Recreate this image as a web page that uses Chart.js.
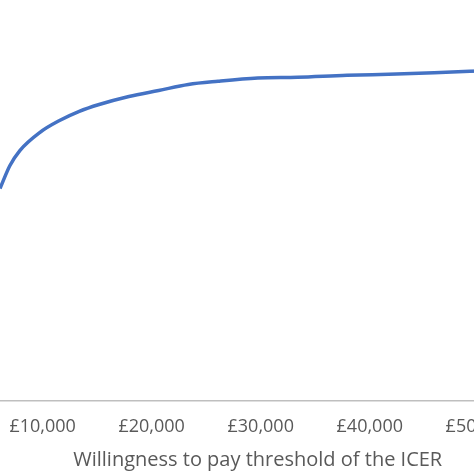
<!DOCTYPE html><html><head><style>html,body{margin:0;padding:0;overflow:hidden;background:#fff}#w{width:520px;height:474px}</style>
<script src="https://cdn.jsdelivr.net/npm/chart.js@4"></script></head><body><div id="w"><canvas id="c"></canvas></div><script>
const thresholds=[6090,6990,7910,9730,11550,13360,15180,17910,20640,23360,26090,29730,33360,37910,42450,49180,53360];
const probability=[0.529,0.586,0.624,0.669,0.699,0.722,0.739,0.759,0.774,0.789,0.797,0.805,0.807,0.812,0.815,0.822,0.825];
new Chart(document.getElementById('c'),{type:'line',data:{datasets:[{data:thresholds.map((x,i)=>({x,y:probability[i]})),borderColor:'#4472C4',borderWidth:3.5,pointRadius:0,tension:0.4,cubicInterpolationMode:'monotone'}]},
options:{responsive:true,maintainAspectRatio:false,animation:false,layout:{padding:{left:0,right:0,top:0,bottom:2}},plugins:{legend:{display:false},tooltip:{enabled:false}},
scales:{x:{type:'linear',min:6090,max:53360,afterBuildTicks:s=>{s.ticks=[10000,20000,30000,40000,50000].map(v=>({value:v}));},
ticks:{callback:v=>'£'+v.toLocaleString('en-GB'),color:'#595959',font:{family:'Open Sans',size:18},maxRotation:0,padding:8},
grid:{display:false},border:{color:'#bfbfbf',width:1.5},
title:{display:true,text:'Willingness to pay threshold of the ICER',color:'#595959',font:{family:'Open Sans',size:20},padding:{top:2,bottom:0}}},
y:{display:false,min:0,max:1}}}});
</script></body></html>
